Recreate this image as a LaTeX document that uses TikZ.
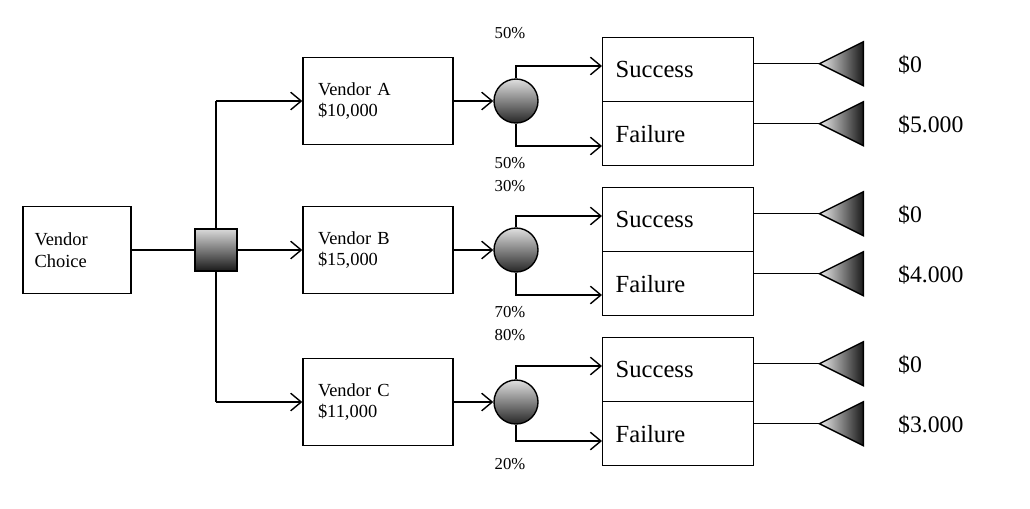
\documentclass[tikz,border=0pt]{standalone}
\usepackage{fontspec}
\setmainfont{Liberation Serif}
\usetikzlibrary{arrows.meta}
\begin{document}
\begin{tikzpicture}[x=0.02cm,y=-0.02cm,
  box/.style={draw,thick,minimum width=150*0.02cm,minimum height=87*0.02cm,align=left,font=\fontsize{10.5}{12.5}\selectfont,text width=120*0.02cm},
  outc/.style={draw,thick,minimum width=151*0.02cm,minimum height=64*0.02cm,anchor=north west,align=left,text width=125*0.02cm,font=\fontsize{14}{15}\selectfont},
  chance/.style={circle,draw,thick,minimum size=44*0.02cm,top color=gray!25,bottom color=black!85},
  dec/.style={draw,thick,minimum size=42*0.02cm,top color=gray!30,bottom color=black!90},
  arr/.style={thick,-{Straight Barb[length=6pt,width=10pt]}},
  ln/.style={thick},
  pct/.style={font=\fontsize{9.5}{10}\selectfont},
  pay/.style={font=\fontsize{13.5}{14}\selectfont,anchor=west}]
\useasboundingbox (0,0) rectangle (1030,508);
\node[box,minimum width=108*0.02cm,text width=85*0.02cm] (vc) at (77,250) {Vendor\\Choice};
\node[dec] (d) at (216,250) {};
\draw[ln] (vc) -- (d);
\coordinate (ta) at (216,101); \coordinate (tc) at (216,402);
\draw[ln] (d.north) -- (ta); \draw[ln] (d.south) -- (tc);
\node[box] (va) at (378,101) {Vendor A\\\$10,000};
\node[box] (vb) at (378,250) {Vendor B\\\$15,000};
\node[box] (vcc) at (378,402) {Vendor C\\\$11,000};
\draw[arr] (ta) -- (va.west);
\draw[arr] (d.east) -- (vb.west);
\draw[arr] (tc) -- (vcc.west);
\foreach \n/\y/\v/\ys/\yf/\ps/\pf/\pts/\ptf/\sy/\fy/\pay in {
  a/101/va/37/101/50/50/33/163/66/146/5.000,
  b/250/vb/187/251/30/70/186/312/216/295/4.000,
  c/402/vcc/337/401/80/20/335/464/366/441/3.000}{
  \node[chance] (c\n) at (516,\y) {};
  \draw[arr] (\v.east) -- (c\n.west);
  \node[outc] (s\n) at (602,\ys) {Success};
  \node[outc] (f\n) at (602,\yf) {Failure};
  \coordinate (ps\n) at (602,\sy); \coordinate (pf\n) at (602,\fy);
  \draw[arr] (c\n.north) |- (ps\n);
  \draw[arr] (c\n.south) |- (pf\n);
  \node[pct] (pu\n) at (510,\pts) {\ps\%};
  \node[pct] (pd\n) at (510,\ptf) {\pf\%};
  \path (s\n.east) ++(65,-6) coordinate (tsa) (f\n.east) ++(65,-10) coordinate (tfa);
  \fill[left color=gray!15,right color=black!90] (tsa) -- ++(44,-22) -- ++(0,44) -- cycle;
  \draw[thick] (tsa) -- ++(44,-22) -- ++(0,44) -- cycle;
  \fill[left color=gray!15,right color=black!90] (tfa) -- ++(44,-22) -- ++(0,44) -- cycle;
  \draw[thick] (tfa) -- ++(44,-22) -- ++(0,44) -- cycle;
  \draw[ln] (s\n.east|-tsa) -- (tsa);
  \draw[ln] (f\n.east|-tfa) -- (tfa);
  \node[pay] (ds\n) at (892,{\ys+28}) {\$0};
  \node[pay] (df\n) at (892,{\yf+24}) {\$\pay};
}
\end{tikzpicture}
\end{document}
